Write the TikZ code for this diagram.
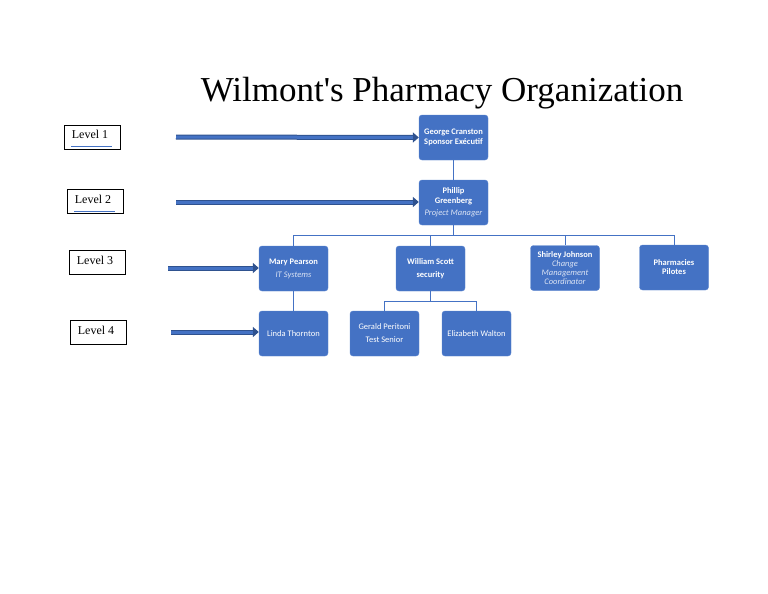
\documentclass[tikz,border=0pt]{standalone}
\usepackage{fontspec}
\setmainfont{Liberation Serif}
\newfontfamily\boxfont{Carlito}
\usetikzlibrary{arrows.meta}
\definecolor{orgBoxBlue}{HTML}{4472C4}
\definecolor{orgEdgeBlue}{HTML}{5B85CF}
\definecolor{orgDarkBlue}{HTML}{2F528F}
\definecolor{orgRoleText}{HTML}{DCE4F4}

\begin{document}
\begin{tikzpicture}[x=1pt, y=-1pt,
    orgbox/.style={draw=orgEdgeBlue, fill=orgBoxBlue, rounded corners=3pt, minimum width=69pt, minimum height=45pt, align=center, text=white, font=\boxfont\fontsize{8.5}{10}\selectfont, inner sep=1pt},
    lvlbox/.style={draw, thin, minimum width=56pt, minimum height=24pt, font=\fontsize{12}{14}\selectfont},
    orgline/.style={draw=orgBoxBlue, line width=0.8pt},
    lvlarrow/.style={draw=orgDarkBlue, line width=5pt, -{Triangle[length=6pt, width=10pt]}, postaction={draw=orgBoxBlue, line width=3pt, shorten >=6pt, -{}}}
  ]
    \useasboundingbox (0,0) rectangle (768,594);
    \node[font=\fontsize{35}{40}\selectfont] (title) at (442,93) {Wilmont\textquotesingle s Pharmacy Organization};

    \node[orgbox] (george) at (453.5,137.5) {\textbf{George Cranston}\\\textbf{Sponsor Exécutif}};
    \node[orgbox] (phillip) at (453.5,202.5) {\textbf{Phillip}\\\textbf{Greenberg}\\[2pt]\textcolor{orgRoleText}{\textit{Project Manager}}};
    \node[orgbox] (mary) at (293.5,268.5) {\textbf{Mary Pearson}\\[3pt]\textcolor{orgRoleText}{\textit{IT Systems}}};
    \node[orgbox] (william) at (430.5,268.5) {\textbf{William Scott}\\[3pt]\textbf{security}};
    \node[orgbox] (shirley) at (565,268) {\textbf{Shirley Johnson}\\[-1pt]\textcolor{orgRoleText}{\textit{Change}}\\[-1pt]\textcolor{orgRoleText}{\textit{Management}}\\[-1pt]\textcolor{orgRoleText}{\textit{Coordinator}}};
    \node[orgbox] (pilotes) at (674,267.5) {\textbf{Pharmacies}\\[-1pt]\textbf{Pilotes}};
    \node[orgbox] (linda) at (293.5,333.5) {Linda Thornton};
    \node[orgbox] (gerald) at (384.5,333.5) {Gerald Peritoni\\[3pt]Test Senior};
    \node[orgbox] (elizabeth) at (476.5,333.5) {Elizabeth Walton};

    \draw[orgline] (george) -- (phillip);
    \draw[orgline] (phillip.south) -- ++(0,10) -| (mary.north);
    \draw[orgline] (phillip.south) ++(0,10) -| (william.north);
    \draw[orgline] (phillip.south) ++(0,10) -| (shirley.north);
    \draw[orgline] (phillip.south) ++(0,10) -| (pilotes.north);
    \draw[orgline] (mary) -- (linda);
    \draw[orgline] (william.south) -- ++(0,10) -| (gerald.north);
    \draw[orgline] (william.south) ++(0,10) -| (elizabeth.north);

    \node[lvlbox, text depth=5pt] (lvl1) at (92,137) {Level 1\,\,};
    \node[lvlbox, text depth=5pt] (lvl2) at (95,201.5) {Level 2\,\,};
    \node[lvlbox, text depth=3pt] (lvl3) at (97,262) {Level 3\,\,};
    \node[lvlbox, text depth=3pt] (lvl4) at (98,332) {Level 4\,\,};
    \draw[orgBoxBlue, line width=0.8pt] (71,146) -- (112,146);
    \draw[orgBoxBlue, line width=0.8pt] (74,211) -- (115,211);

    \coordinate (from1) at (176,137);
    \coordinate (from2) at (176,202);
    \coordinate (from3) at (168,268);
    \coordinate (from4) at (171,332);
    \draw[lvlarrow] (from1) -- (george.west);
    \draw[lvlarrow] (from2) -- (phillip.west |- from2);
    \draw[lvlarrow] (from3) -- (mary.west |- from3);
    \draw[lvlarrow] (from4) -- (linda.west |- from4);
\end{tikzpicture}
\end{document}
